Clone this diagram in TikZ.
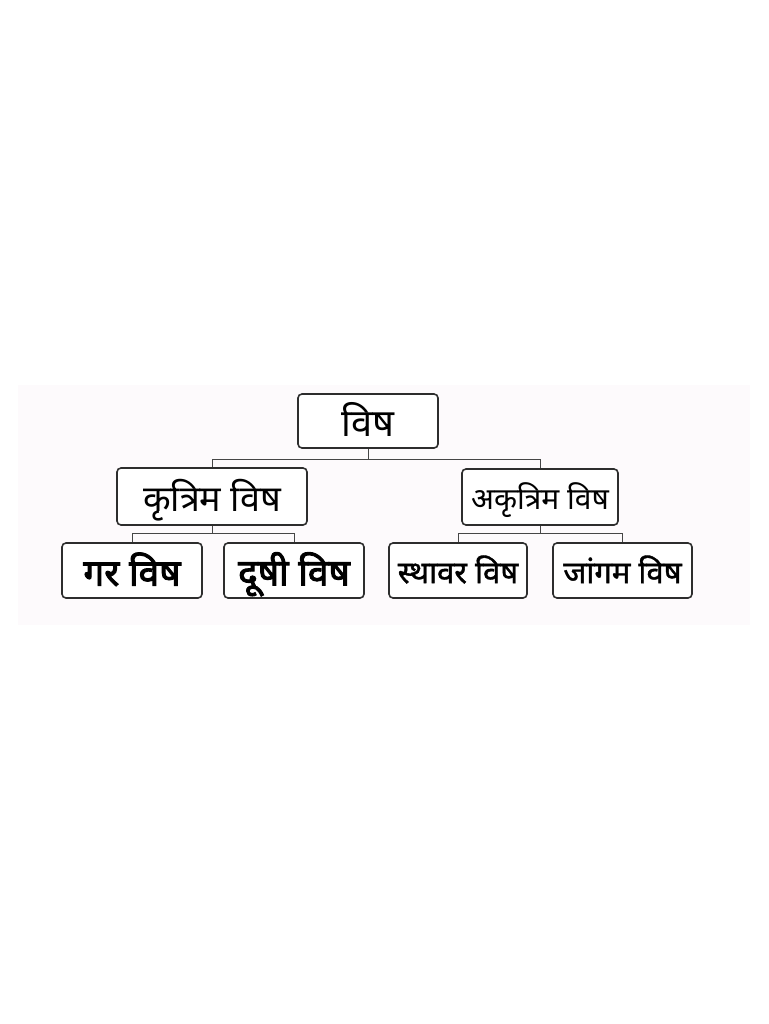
\documentclass[tikz,border=0pt]{standalone}
\usepackage{fontspec}
\newfontfamily\devfont[Script=Devanagari]{Noto Sans}
\newfontfamily\devsemi[Script=Devanagari, FakeBold=1.2]{Noto Sans}
\newfontfamily\devbold[Script=Devanagari, FakeBold=2.6]{Noto Sans}
\usetikzlibrary{positioning}

\definecolor{panelpink}{RGB}{253,250,252}
\definecolor{boxline}{RGB}{45,45,45}
\definecolor{linkline}{RGB}{70,70,70}

% same height and depth for every label, so the baselines line up
\newcommand{\dstrut}{\rule[-0.28em]{0pt}{1.38em}}

\tikzset{
  vbox/.style={draw=boxline, line width=1.6pt, rounded corners=4pt, fill=white,
    inner sep=0pt, execute at begin node=\dstrut},
  link/.style={draw=linkline, line width=1pt}
}

\begin{document}
\begin{tikzpicture}[x=1pt, y=-1pt]

% page and the faint panel behind the chart
\useasboundingbox (0,0) rectangle (768,1024);
\fill[white] (0,0) rectangle (768,1024);
\fill[panelpink] (18,385) rectangle (750,625);

% top level
\node[vbox, minimum width=140pt, minimum height=54pt, font=\devfont\fontsize{38}{44}\selectfont] (visha) at (368,421) {विष};

% second level
\node[vbox, minimum width=190pt, minimum height=57pt, font=\devfont\fontsize{36}{40}\selectfont] (kritrim) at (212,496.5) {कृत्रिम विष};
\node[vbox, minimum width=156pt, minimum height=56pt, font=\devfont\fontsize{30}{36}\selectfont] (akritrim) at (540,497) {अकृत्रिम विष};

% third level
\node[vbox, minimum width=140pt, minimum height=55pt, font=\devbold\fontsize{37}{40}\selectfont] (gar) at (132,570.5) {गर विष};
\node[vbox, minimum width=140pt, minimum height=55pt, font=\devbold\fontsize{37}{40}\selectfont] (dushi) at (294,570.5) {दूषी विष};
\node[vbox, minimum width=138pt, minimum height=55pt, font=\devsemi\fontsize{31}{36}\selectfont] (sthavar) at (458,570.5) {स्थावर विष};
\node[vbox, minimum width=139pt, minimum height=55pt, font=\devsemi\fontsize{31}{36}\selectfont] (jangam) at (622.5,570.5) {जांगम विष};

% connectors: down to a bus, across, then down to each box
\draw[link] (visha.south) -- ++(0,11) -| (kritrim.north);
\draw[link] (visha.south) -- ++(0,11) -| (akritrim.north);

\draw[link] (kritrim.south) -- ++(0,8) -| (gar.north);
\draw[link] (kritrim.south) -- ++(0,8) -| (dushi.north);

\draw[link] (akritrim.south) -- ++(0,8) -| (sthavar.north);
\draw[link] (akritrim.south) -- ++(0,8) -| (jangam.north);

\end{tikzpicture}
\end{document}
